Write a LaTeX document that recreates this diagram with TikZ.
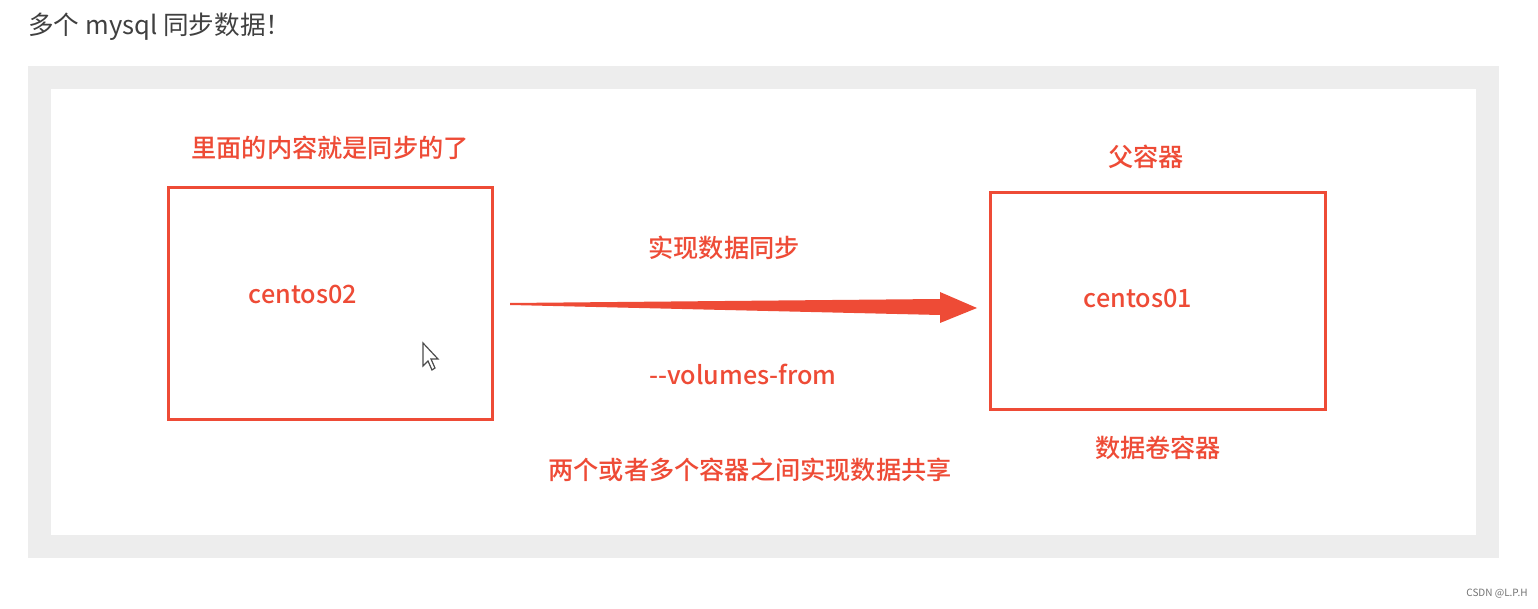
\documentclass[tikz,border=0pt]{standalone}
\usepackage{fontspec}
\setmainfont{Noto Sans CJK SC}
\newfontfamily\medfont{Noto Sans CJK SC Medium}
\definecolor{rd}{HTML}{EE4B36}
\definecolor{panel}{HTML}{EDEDED}
\begin{document}
\begin{tikzpicture}[x=0.5pt,y=-0.5pt,
  lbl/.style={text=rd,font=\medfont\fontsize{12.6}{14}\selectfont,inner sep=0},
  box/.style={draw=rd,line width=1.5pt}]
\useasboundingbox (0,0) rectangle (1538,609);
\fill[white] (0,0) rectangle (1538,609);
\node[anchor=west,text=black!75,font=\fontsize{12.8}{14}\selectfont,inner sep=0] (title) at (28,27) {多个 mysql 同步数据！};
\fill[panel] (28,66) rectangle (1499,558);
\fill[white] (51,89) rectangle (1476,535);
\draw[box] (168,188) rectangle (492,420);
\draw[box] (990,193) rectangle (1325,410);
\node[lbl] (t1) at (330,148) {里面的内容就是同步的了};
\node[lbl] (c2) at (303,294) {centos02};
\node[lbl] (t2) at (724,248) {实现数据同步};
\node[lbl] (t3) at (743,374) {-{}-volumes-from};
\node[lbl] (t4) at (750,470) {两个或者多个容器之间实现数据共享};
\node[lbl] (t5) at (1146,157) {父容器};
\node[lbl] (c1) at (1138,298) {centos01};
\node[lbl] (t6) at (1158,448) {数据卷容器};
\node[anchor=east,text=black!55,font=\fontsize{5}{6}\selectfont,inner sep=0] (cs) at (1528,594) {CSDN @L.P.H};
\coordinate (a0) at (510,303);
\coordinate (a1) at (977,308);
\fill[rd] (a0) -- (940,299) -- (940,292) -- (a1) -- (940,323) -- (940,315) -- (510,305) -- cycle;
\filldraw[fill=white,draw=black!70,line width=0.6pt] (423,343) -- (423,366) -- (428,361) -- (432,370) -- (435,368) -- (431,359) -- (438,359) -- cycle;
\end{tikzpicture}
\end{document}
